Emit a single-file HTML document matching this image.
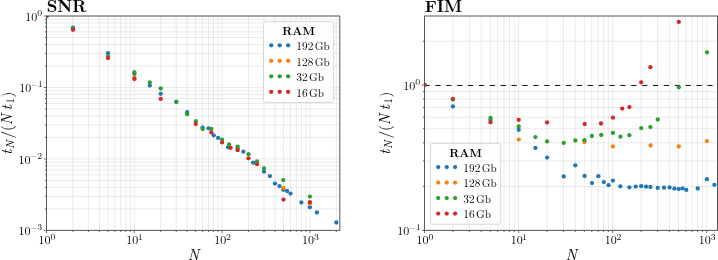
<!DOCTYPE html>
<html><head><meta charset="utf-8"><title>SNR / FIM</title>
<style>html,body{margin:0;padding:0;background:#fff;overflow:hidden}svg{display:block}</style>
</head><body>
<svg width="718" height="260" viewBox="0 0 718 260">
<rect width="718" height="260" fill="#fff"/>
<clipPath id="csnr"><rect x="46.5" y="16.0" width="293.30" height="214.40"/></clipPath>
<path d="M46.50 16.0V230.4M72.93 16.0V230.4M88.39 16.0V230.4M99.36 16.0V230.4M107.87 16.0V230.4M114.82 16.0V230.4M120.70 16.0V230.4M125.79 16.0V230.4M130.28 16.0V230.4M134.30 16.0V230.4M160.73 16.0V230.4M176.19 16.0V230.4M187.16 16.0V230.4M195.67 16.0V230.4M202.62 16.0V230.4M208.50 16.0V230.4M213.59 16.0V230.4M218.08 16.0V230.4M222.10 16.0V230.4M248.53 16.0V230.4M263.99 16.0V230.4M274.96 16.0V230.4M283.47 16.0V230.4M290.42 16.0V230.4M296.30 16.0V230.4M301.39 16.0V230.4M305.88 16.0V230.4M309.90 16.0V230.4M336.33 16.0V230.4" stroke="#c4c4c4" stroke-opacity="0.42" stroke-width="0.8" fill="none"/>
<path d="M46.5 230.41H339.8M46.5 208.90H339.8M46.5 196.31H339.8M46.5 187.38H339.8M46.5 180.45H339.8M46.5 174.80H339.8M46.5 170.01H339.8M46.5 165.87H339.8M46.5 162.21H339.8M46.5 158.94H339.8M46.5 137.43H339.8M46.5 124.84H339.8M46.5 115.91H339.8M46.5 108.98H339.8M46.5 103.33H339.8M46.5 98.54H339.8M46.5 94.40H339.8M46.5 90.74H339.8M46.5 87.47H339.8M46.5 65.96H339.8M46.5 53.37H339.8M46.5 44.44H339.8M46.5 37.51H339.8M46.5 31.86H339.8M46.5 27.07H339.8M46.5 22.93H339.8M46.5 19.27H339.8M46.5 16.00H339.8" stroke="#c4c4c4" stroke-opacity="0.42" stroke-width="0.8" fill="none"/>
<g clip-path="url(#csnr)">
<circle cx="46.5" cy="16" r="2.15" fill="#1f77b4"/>
<circle cx="73" cy="27.7" r="2.15" fill="#1f77b4"/>
<circle cx="108" cy="53.15" r="2.15" fill="#1f77b4"/>
<circle cx="134.4" cy="73.9" r="2.15" fill="#1f77b4"/>
<circle cx="149.8" cy="85.6" r="2.15" fill="#1f77b4"/>
<circle cx="160.7" cy="93.8" r="2.15" fill="#1f77b4"/>
<circle cx="176.3" cy="102.1" r="2.15" fill="#1f77b4"/>
<circle cx="187.2" cy="112.1" r="2.15" fill="#1f77b4"/>
<circle cx="202.6" cy="127.6" r="2.15" fill="#1f77b4"/>
<circle cx="208.5" cy="128.3" r="2.15" fill="#1f77b4"/>
<circle cx="213.7" cy="135.3" r="2.15" fill="#1f77b4"/>
<circle cx="218.1" cy="137.9" r="2.15" fill="#1f77b4"/>
<circle cx="228.1" cy="147.3" r="2.15" fill="#1f77b4"/>
<circle cx="237.6" cy="148.4" r="2.15" fill="#1f77b4"/>
<circle cx="243.4" cy="151.7" r="2.15" fill="#1f77b4"/>
<circle cx="253.1" cy="162.7" r="2.15" fill="#1f77b4"/>
<circle cx="264" cy="171.7" r="2.15" fill="#1f77b4"/>
<circle cx="269.9" cy="176.1" r="2.15" fill="#1f77b4"/>
<circle cx="275" cy="183.6" r="2.15" fill="#1f77b4"/>
<circle cx="279.5" cy="186.1" r="2.15" fill="#1f77b4"/>
<circle cx="283.3" cy="189.8" r="2.15" fill="#1f77b4"/>
<circle cx="287.1" cy="191" r="2.15" fill="#1f77b4"/>
<circle cx="290.5" cy="193.6" r="2.15" fill="#1f77b4"/>
<circle cx="301.4" cy="202.5" r="2.15" fill="#1f77b4"/>
<circle cx="309.9" cy="207.3" r="2.15" fill="#1f77b4"/>
<circle cx="316.9" cy="212.5" r="2.15" fill="#1f77b4"/>
<circle cx="336.3" cy="222.5" r="2.15" fill="#1f77b4"/>
<circle cx="46.5" cy="16" r="2.15" fill="#ff7f0e"/>
<circle cx="134.4" cy="77.6" r="2.15" fill="#ff7f0e"/>
<circle cx="283.4" cy="187.9" r="2.15" fill="#ff7f0e"/>
<circle cx="309.9" cy="203.6" r="2.15" fill="#ff7f0e"/>
<circle cx="46.5" cy="16" r="2.15" fill="#2ca02c"/>
<circle cx="73" cy="28.6" r="2.15" fill="#2ca02c"/>
<circle cx="108" cy="56.3" r="2.15" fill="#2ca02c"/>
<circle cx="134.4" cy="72.2" r="2.15" fill="#2ca02c"/>
<circle cx="149.8" cy="82.5" r="2.15" fill="#2ca02c"/>
<circle cx="160.7" cy="88.5" r="2.15" fill="#2ca02c"/>
<circle cx="176.3" cy="101.6" r="2.15" fill="#2ca02c"/>
<circle cx="187.2" cy="114.2" r="2.15" fill="#2ca02c"/>
<circle cx="195.8" cy="121.2" r="2.15" fill="#2ca02c"/>
<circle cx="202.6" cy="129.1" r="2.15" fill="#2ca02c"/>
<circle cx="211.3" cy="128.8" r="2.15" fill="#2ca02c"/>
<circle cx="222.1" cy="139.6" r="2.15" fill="#2ca02c"/>
<circle cx="229.1" cy="144.5" r="2.15" fill="#2ca02c"/>
<circle cx="237.6" cy="146.6" r="2.15" fill="#2ca02c"/>
<circle cx="248.5" cy="154.2" r="2.15" fill="#2ca02c"/>
<circle cx="257" cy="161.3" r="2.15" fill="#2ca02c"/>
<circle cx="264" cy="168.4" r="2.15" fill="#2ca02c"/>
<circle cx="283.3" cy="180.1" r="2.15" fill="#2ca02c"/>
<circle cx="309.9" cy="196.6" r="2.15" fill="#2ca02c"/>
<circle cx="46.5" cy="16" r="2.15" fill="#d62728"/>
<circle cx="73" cy="29.8" r="2.15" fill="#d62728"/>
<circle cx="108" cy="58.1" r="2.15" fill="#d62728"/>
<circle cx="134.4" cy="79.0" r="2.15" fill="#d62728"/>
<circle cx="160.7" cy="98.9" r="2.15" fill="#d62728"/>
<circle cx="195.8" cy="124.1" r="2.15" fill="#d62728"/>
<circle cx="211.3" cy="132.4" r="2.15" fill="#d62728"/>
<circle cx="222.1" cy="142.4" r="2.15" fill="#d62728"/>
<circle cx="230.7" cy="147.8" r="2.15" fill="#d62728"/>
<circle cx="237.6" cy="150.2" r="2.15" fill="#d62728"/>
<circle cx="248.5" cy="158.3" r="2.15" fill="#d62728"/>
<circle cx="257" cy="164.2" r="2.15" fill="#d62728"/>
<circle cx="283.5" cy="199.6" r="2.15" fill="#d62728"/>
<circle cx="309.9" cy="202.2" r="2.15" fill="#d62728"/>
</g>
<rect x="46.5" y="16.0" width="293.30" height="214.40" fill="none" stroke="#585858" stroke-width="1.0"/>
<path d="M46.50 230.4v2.6M72.93 230.4v1.6M88.39 230.4v1.6M99.36 230.4v1.6M107.87 230.4v1.6M114.82 230.4v1.6M120.70 230.4v1.6M125.79 230.4v1.6M130.28 230.4v1.6M134.30 230.4v2.6M160.73 230.4v1.6M176.19 230.4v1.6M187.16 230.4v1.6M195.67 230.4v1.6M202.62 230.4v1.6M208.50 230.4v1.6M213.59 230.4v1.6M218.08 230.4v1.6M222.10 230.4v2.6M248.53 230.4v1.6M263.99 230.4v1.6M274.96 230.4v1.6M283.47 230.4v1.6M290.42 230.4v1.6M296.30 230.4v1.6M301.39 230.4v1.6M305.88 230.4v1.6M309.90 230.4v2.6M336.33 230.4v1.6M46.5 230.41h-2.6M46.5 208.90h-1.6M46.5 196.31h-1.6M46.5 187.38h-1.6M46.5 180.45h-1.6M46.5 174.80h-1.6M46.5 170.01h-1.6M46.5 165.87h-1.6M46.5 162.21h-1.6M46.5 158.94h-2.6M46.5 137.43h-1.6M46.5 124.84h-1.6M46.5 115.91h-1.6M46.5 108.98h-1.6M46.5 103.33h-1.6M46.5 98.54h-1.6M46.5 94.40h-1.6M46.5 90.74h-1.6M46.5 87.47h-2.6M46.5 65.96h-1.6M46.5 53.37h-1.6M46.5 44.44h-1.6M46.5 37.51h-1.6M46.5 31.86h-1.6M46.5 27.07h-1.6M46.5 22.93h-1.6M46.5 19.27h-1.6M46.5 16.00h-2.6" stroke="#585858" stroke-width="0.9" fill="none"/>
<text y="243.8" font-family='"LM Roman 10","Latin Modern Roman","Liberation Serif",serif' font-size="12.0"><tspan x="38.53">10</tspan><tspan x="50.50" y="239.55" font-family='"LM Roman 7","Latin Modern Roman","Liberation Serif",serif' font-size="8.6">0</tspan></text>
<text y="243.8" font-family='"LM Roman 10","Latin Modern Roman","Liberation Serif",serif' font-size="12.0"><tspan x="126.33">10</tspan><tspan x="137.81" y="239.55" font-family='"LM Roman 7","Latin Modern Roman","Liberation Serif",serif' font-size="8.6">1</tspan></text>
<text y="243.8" font-family='"LM Roman 10","Latin Modern Roman","Liberation Serif",serif' font-size="12.0"><tspan x="214.13">10</tspan><tspan x="226.01" y="239.55" font-family='"LM Roman 7","Latin Modern Roman","Liberation Serif",serif' font-size="8.6">2</tspan></text>
<text y="243.8" font-family='"LM Roman 10","Latin Modern Roman","Liberation Serif",serif' font-size="12.0"><tspan x="301.93">10</tspan><tspan x="313.89" y="239.55" font-family='"LM Roman 7","Latin Modern Roman","Liberation Serif",serif' font-size="8.6">3</tspan></text>
<text y="235.01" font-family='"LM Roman 10","Latin Modern Roman","Liberation Serif",serif' font-size="12.0"><tspan x="18.41">10</tspan><tspan x="30.69" y="229.66" font-family='"LM Roman 7","Latin Modern Roman","Liberation Serif",serif' font-size="6.4">−</tspan><tspan x="37.28" y="230.36" font-family='"LM Roman 7","Latin Modern Roman","Liberation Serif",serif' font-size="8.6">3</tspan></text>
<text y="163.54" font-family='"LM Roman 10","Latin Modern Roman","Liberation Serif",serif' font-size="12.0"><tspan x="18.57">10</tspan><tspan x="30.84" y="158.19" font-family='"LM Roman 7","Latin Modern Roman","Liberation Serif",serif' font-size="6.4">−</tspan><tspan x="37.36" y="158.89" font-family='"LM Roman 7","Latin Modern Roman","Liberation Serif",serif' font-size="8.6">2</tspan></text>
<text y="92.07" font-family='"LM Roman 10","Latin Modern Roman","Liberation Serif",serif' font-size="12.0"><tspan x="19.24">10</tspan><tspan x="31.51" y="86.72" font-family='"LM Roman 7","Latin Modern Roman","Liberation Serif",serif' font-size="6.4">−</tspan><tspan x="37.63" y="87.42" font-family='"LM Roman 7","Latin Modern Roman","Liberation Serif",serif' font-size="8.6">1</tspan></text>
<text y="20.60" font-family='"LM Roman 10","Latin Modern Roman","Liberation Serif",serif' font-size="12.0"><tspan x="25.29">10</tspan><tspan x="37.26" y="15.95" font-family='"LM Roman 7","Latin Modern Roman","Liberation Serif",serif' font-size="8.6">0</tspan></text>
<text x="46.7" y="11.8" font-family='"LM Roman 10","Latin Modern Roman","Liberation Serif",serif' font-weight="bold" font-size="16.6">SNR</text>
<clipPath id="cfim"><rect x="424.5" y="16.0" width="293.00" height="214.40"/></clipPath>
<path d="M424.50 16.0V230.4M452.83 16.0V230.4M469.40 16.0V230.4M481.15 16.0V230.4M490.27 16.0V230.4M497.72 16.0V230.4M504.02 16.0V230.4M509.48 16.0V230.4M514.29 16.0V230.4M518.60 16.0V230.4M546.93 16.0V230.4M563.50 16.0V230.4M575.25 16.0V230.4M584.37 16.0V230.4M591.82 16.0V230.4M598.12 16.0V230.4M603.58 16.0V230.4M608.39 16.0V230.4M612.70 16.0V230.4M641.03 16.0V230.4M657.60 16.0V230.4M669.35 16.0V230.4M678.47 16.0V230.4M685.92 16.0V230.4M692.22 16.0V230.4M697.68 16.0V230.4M702.49 16.0V230.4M706.80 16.0V230.4" stroke="#c4c4c4" stroke-opacity="0.42" stroke-width="0.8" fill="none"/>
<path d="M424.5 230.30H717.5M424.5 186.56H717.5M424.5 160.97H717.5M424.5 142.82H717.5M424.5 128.74H717.5M424.5 117.23H717.5M424.5 107.51H717.5M424.5 99.08H717.5M424.5 91.65H717.5M424.5 85.00H717.5M424.5 41.26H717.5" stroke="#c4c4c4" stroke-opacity="0.42" stroke-width="0.8" fill="none"/>
<line x1="424.5" y1="85.45" x2="717.5" y2="85.45" stroke="#1c1c1c" stroke-width="1.05" stroke-dasharray="5.2 5.68"/>
<g clip-path="url(#cfim)">
<circle cx="424.5" cy="85" r="2.15" fill="#1f77b4"/>
<circle cx="452.9" cy="106.4" r="2.15" fill="#1f77b4"/>
<circle cx="490.5" cy="120" r="2.15" fill="#1f77b4"/>
<circle cx="518.7" cy="129.8" r="2.15" fill="#1f77b4"/>
<circle cx="535.4" cy="147.9" r="2.15" fill="#1f77b4"/>
<circle cx="547.1" cy="157.6" r="2.15" fill="#1f77b4"/>
<circle cx="563.7" cy="176.5" r="2.15" fill="#1f77b4"/>
<circle cx="575.3" cy="165.3" r="2.15" fill="#1f77b4"/>
<circle cx="584.6" cy="176" r="2.15" fill="#1f77b4"/>
<circle cx="592" cy="183.1" r="2.15" fill="#1f77b4"/>
<circle cx="598.4" cy="176.2" r="2.15" fill="#1f77b4"/>
<circle cx="603.8" cy="182.1" r="2.15" fill="#1f77b4"/>
<circle cx="608.6" cy="185.2" r="2.15" fill="#1f77b4"/>
<circle cx="612.9" cy="180.6" r="2.15" fill="#1f77b4"/>
<circle cx="620.4" cy="186.3" r="2.15" fill="#1f77b4"/>
<circle cx="629.4" cy="187.3" r="2.15" fill="#1f77b4"/>
<circle cx="635.7" cy="186.6" r="2.15" fill="#1f77b4"/>
<circle cx="641.2" cy="186.2" r="2.15" fill="#1f77b4"/>
<circle cx="646.1" cy="186.7" r="2.15" fill="#1f77b4"/>
<circle cx="650.4" cy="187" r="2.15" fill="#1f77b4"/>
<circle cx="657.7" cy="187.9" r="2.15" fill="#1f77b4"/>
<circle cx="664" cy="187.7" r="2.15" fill="#1f77b4"/>
<circle cx="669.6" cy="187.5" r="2.15" fill="#1f77b4"/>
<circle cx="674.4" cy="188.6" r="2.15" fill="#1f77b4"/>
<circle cx="678.7" cy="189.1" r="2.15" fill="#1f77b4"/>
<circle cx="682.6" cy="188.3" r="2.15" fill="#1f77b4"/>
<circle cx="686.3" cy="189.9" r="2.15" fill="#1f77b4"/>
<circle cx="697.7" cy="188.5" r="2.15" fill="#1f77b4"/>
<circle cx="706.9" cy="179.2" r="2.15" fill="#1f77b4"/>
<circle cx="714.4" cy="184.8" r="2.15" fill="#1f77b4"/>
<circle cx="424.5" cy="85" r="2.15" fill="#ff7f0e"/>
<circle cx="518.7" cy="139.6" r="2.15" fill="#ff7f0e"/>
<circle cx="584.5" cy="142.1" r="2.15" fill="#ff7f0e"/>
<circle cx="612.9" cy="146.4" r="2.15" fill="#ff7f0e"/>
<circle cx="650.6" cy="145.5" r="2.15" fill="#ff7f0e"/>
<circle cx="678.8" cy="146.5" r="2.15" fill="#ff7f0e"/>
<circle cx="706.9" cy="141.1" r="2.15" fill="#ff7f0e"/>
<circle cx="424.5" cy="85" r="2.15" fill="#2ca02c"/>
<circle cx="452.9" cy="99.6" r="2.15" fill="#2ca02c"/>
<circle cx="490.5" cy="118.0" r="2.15" fill="#2ca02c"/>
<circle cx="518.7" cy="126.3" r="2.15" fill="#2ca02c"/>
<circle cx="535.4" cy="137.1" r="2.15" fill="#2ca02c"/>
<circle cx="547.1" cy="141.4" r="2.15" fill="#2ca02c"/>
<circle cx="563.7" cy="142.9" r="2.15" fill="#2ca02c"/>
<circle cx="575.4" cy="140.5" r="2.15" fill="#2ca02c"/>
<circle cx="584.4" cy="140.2" r="2.15" fill="#2ca02c"/>
<circle cx="591.9" cy="136" r="2.15" fill="#2ca02c"/>
<circle cx="601.2" cy="135" r="2.15" fill="#2ca02c"/>
<circle cx="612.9" cy="132.9" r="2.15" fill="#2ca02c"/>
<circle cx="620.4" cy="136.7" r="2.15" fill="#2ca02c"/>
<circle cx="629.4" cy="135.2" r="2.15" fill="#2ca02c"/>
<circle cx="641.2" cy="128.1" r="2.15" fill="#2ca02c"/>
<circle cx="650.4" cy="127.1" r="2.15" fill="#2ca02c"/>
<circle cx="657.8" cy="119.5" r="2.15" fill="#2ca02c"/>
<circle cx="678.8" cy="87.3" r="2.15" fill="#2ca02c"/>
<circle cx="707" cy="52.3" r="2.15" fill="#2ca02c"/>
<circle cx="424.5" cy="85" r="2.15" fill="#d62728"/>
<circle cx="452.9" cy="98.85" r="2.15" fill="#d62728"/>
<circle cx="490.5" cy="122.3" r="2.15" fill="#d62728"/>
<circle cx="518.7" cy="119.8" r="2.15" fill="#d62728"/>
<circle cx="547.1" cy="122.5" r="2.15" fill="#d62728"/>
<circle cx="584.7" cy="124" r="2.15" fill="#d62728"/>
<circle cx="601" cy="123.5" r="2.15" fill="#d62728"/>
<circle cx="612.9" cy="117.7" r="2.15" fill="#d62728"/>
<circle cx="622.2" cy="108.6" r="2.15" fill="#d62728"/>
<circle cx="629.4" cy="107.1" r="2.15" fill="#d62728"/>
<circle cx="641.2" cy="82.3" r="2.15" fill="#d62728"/>
<circle cx="650.4" cy="67.2" r="2.15" fill="#d62728"/>
<circle cx="678.8" cy="21.9" r="2.15" fill="#d62728"/>
</g>
<rect x="424.5" y="16.0" width="293.00" height="214.40" fill="none" stroke="#585858" stroke-width="1.0"/>
<path d="M424.50 230.4v2.6M452.83 230.4v1.6M469.40 230.4v1.6M481.15 230.4v1.6M490.27 230.4v1.6M497.72 230.4v1.6M504.02 230.4v1.6M509.48 230.4v1.6M514.29 230.4v1.6M518.60 230.4v2.6M546.93 230.4v1.6M563.50 230.4v1.6M575.25 230.4v1.6M584.37 230.4v1.6M591.82 230.4v1.6M598.12 230.4v1.6M603.58 230.4v1.6M608.39 230.4v1.6M612.70 230.4v2.6M641.03 230.4v1.6M657.60 230.4v1.6M669.35 230.4v1.6M678.47 230.4v1.6M685.92 230.4v1.6M692.22 230.4v1.6M697.68 230.4v1.6M702.49 230.4v1.6M706.80 230.4v2.6M424.5 230.30h-2.6M424.5 186.56h-1.6M424.5 160.97h-1.6M424.5 142.82h-1.6M424.5 128.74h-1.6M424.5 117.23h-1.6M424.5 107.51h-1.6M424.5 99.08h-1.6M424.5 91.65h-1.6M424.5 85.00h-2.6M424.5 41.26h-1.6" stroke="#585858" stroke-width="0.9" fill="none"/>
<text y="243.8" font-family='"LM Roman 10","Latin Modern Roman","Liberation Serif",serif' font-size="12.0"><tspan x="416.53">10</tspan><tspan x="428.50" y="239.55" font-family='"LM Roman 7","Latin Modern Roman","Liberation Serif",serif' font-size="8.6">0</tspan></text>
<text y="243.8" font-family='"LM Roman 10","Latin Modern Roman","Liberation Serif",serif' font-size="12.0"><tspan x="510.63">10</tspan><tspan x="522.11" y="239.55" font-family='"LM Roman 7","Latin Modern Roman","Liberation Serif",serif' font-size="8.6">1</tspan></text>
<text y="243.8" font-family='"LM Roman 10","Latin Modern Roman","Liberation Serif",serif' font-size="12.0"><tspan x="604.73">10</tspan><tspan x="616.61" y="239.55" font-family='"LM Roman 7","Latin Modern Roman","Liberation Serif",serif' font-size="8.6">2</tspan></text>
<text y="243.8" font-family='"LM Roman 10","Latin Modern Roman","Liberation Serif",serif' font-size="12.0"><tspan x="698.83">10</tspan><tspan x="710.79" y="239.55" font-family='"LM Roman 7","Latin Modern Roman","Liberation Serif",serif' font-size="8.6">3</tspan></text>
<text y="234.90" font-family='"LM Roman 10","Latin Modern Roman","Liberation Serif",serif' font-size="12.0"><tspan x="397.24">10</tspan><tspan x="409.51" y="229.55" font-family='"LM Roman 7","Latin Modern Roman","Liberation Serif",serif' font-size="6.4">−</tspan><tspan x="415.63" y="230.25" font-family='"LM Roman 7","Latin Modern Roman","Liberation Serif",serif' font-size="8.6">1</tspan></text>
<text y="89.60" font-family='"LM Roman 10","Latin Modern Roman","Liberation Serif",serif' font-size="12.0"><tspan x="403.29">10</tspan><tspan x="415.26" y="84.95" font-family='"LM Roman 7","Latin Modern Roman","Liberation Serif",serif' font-size="8.6">0</tspan></text>
<text x="424.7" y="11.8" font-family='"LM Roman 10","Latin Modern Roman","Liberation Serif",serif' font-weight="bold" font-size="16.6">FIM</text>
<rect x="263.5" y="21.6" width="70.2" height="80.8" rx="2" fill="#fff" fill-opacity="0.8" stroke="#d6d6d6" stroke-width="1"/>
<text x="298.60" y="35.10" text-anchor="middle" font-family='"LM Roman 10","Latin Modern Roman","Liberation Serif",serif' font-weight="bold" font-size="11.6">RAM</text>
<circle cx="271.20" cy="45.30" r="2.15" fill="#1f77b4"/>
<circle cx="279.70" cy="45.30" r="2.15" fill="#1f77b4"/>
<circle cx="288.10" cy="45.30" r="2.15" fill="#1f77b4"/>
<text x="296.30" y="50.00" font-family='"LM Roman 10","Latin Modern Roman","Liberation Serif",serif' font-size="11.4" word-spacing="-2.5">192 <tspan font-size="11.2">Gb</tspan></text>
<circle cx="271.20" cy="60.80" r="2.15" fill="#ff7f0e"/>
<circle cx="279.70" cy="60.80" r="2.15" fill="#ff7f0e"/>
<circle cx="288.10" cy="60.80" r="2.15" fill="#ff7f0e"/>
<text x="296.30" y="65.50" font-family='"LM Roman 10","Latin Modern Roman","Liberation Serif",serif' font-size="11.4" word-spacing="-2.5">128 <tspan font-size="11.2">Gb</tspan></text>
<circle cx="271.20" cy="76.30" r="2.15" fill="#2ca02c"/>
<circle cx="279.70" cy="76.30" r="2.15" fill="#2ca02c"/>
<circle cx="288.10" cy="76.30" r="2.15" fill="#2ca02c"/>
<text x="296.30" y="81.00" font-family='"LM Roman 10","Latin Modern Roman","Liberation Serif",serif' font-size="11.4" word-spacing="-2.5">32 <tspan font-size="11.2">Gb</tspan></text>
<circle cx="271.20" cy="91.80" r="2.15" fill="#d62728"/>
<circle cx="279.70" cy="91.80" r="2.15" fill="#d62728"/>
<circle cx="288.10" cy="91.80" r="2.15" fill="#d62728"/>
<text x="296.30" y="96.50" font-family='"LM Roman 10","Latin Modern Roman","Liberation Serif",serif' font-size="11.4" word-spacing="-2.5">16 <tspan font-size="11.2">Gb</tspan></text>
<rect x="430.5" y="143.4" width="70.2" height="80.8" rx="2" fill="#fff" fill-opacity="0.8" stroke="#d6d6d6" stroke-width="1"/>
<text x="465.60" y="156.90" text-anchor="middle" font-family='"LM Roman 10","Latin Modern Roman","Liberation Serif",serif' font-weight="bold" font-size="11.6">RAM</text>
<circle cx="438.20" cy="167.10" r="2.15" fill="#1f77b4"/>
<circle cx="446.70" cy="167.10" r="2.15" fill="#1f77b4"/>
<circle cx="455.10" cy="167.10" r="2.15" fill="#1f77b4"/>
<text x="463.30" y="171.80" font-family='"LM Roman 10","Latin Modern Roman","Liberation Serif",serif' font-size="11.4" word-spacing="-2.5">192 <tspan font-size="11.2">Gb</tspan></text>
<circle cx="438.20" cy="182.60" r="2.15" fill="#ff7f0e"/>
<circle cx="446.70" cy="182.60" r="2.15" fill="#ff7f0e"/>
<circle cx="455.10" cy="182.60" r="2.15" fill="#ff7f0e"/>
<text x="463.30" y="187.30" font-family='"LM Roman 10","Latin Modern Roman","Liberation Serif",serif' font-size="11.4" word-spacing="-2.5">128 <tspan font-size="11.2">Gb</tspan></text>
<circle cx="438.20" cy="198.10" r="2.15" fill="#2ca02c"/>
<circle cx="446.70" cy="198.10" r="2.15" fill="#2ca02c"/>
<circle cx="455.10" cy="198.10" r="2.15" fill="#2ca02c"/>
<text x="463.30" y="202.80" font-family='"LM Roman 10","Latin Modern Roman","Liberation Serif",serif' font-size="11.4" word-spacing="-2.5">32 <tspan font-size="11.2">Gb</tspan></text>
<circle cx="438.20" cy="213.60" r="2.15" fill="#d62728"/>
<circle cx="446.70" cy="213.60" r="2.15" fill="#d62728"/>
<circle cx="455.10" cy="213.60" r="2.15" fill="#d62728"/>
<text x="463.30" y="218.30" font-family='"LM Roman 10","Latin Modern Roman","Liberation Serif",serif' font-size="11.4" word-spacing="-2.5">16 <tspan font-size="11.2">Gb</tspan></text>
<text transform="translate(12.0,155) rotate(-90)" font-family='"LM Roman 10","Latin Modern Roman","Liberation Serif",serif' font-size="15.2"><tspan x="0.37" y="0" font-family='"LM Roman 10","Latin Modern Roman","Liberation Serif",serif' font-size="15.2" font-style="italic">t</tspan><tspan x="5.89" y="2.4" font-family='"LM Roman 7","Latin Modern Roman","Liberation Serif",serif' font-size="10.64" font-style="italic">N</tspan><tspan x="16.51" y="0" font-family='"LM Roman 10","Latin Modern Roman","Liberation Serif",serif' font-size="15.2">/</tspan><tspan x="24.13" y="0" font-family='"LM Roman 10","Latin Modern Roman","Liberation Serif",serif' font-size="15.2">(</tspan><tspan x="29.70" y="0" font-family='"LM Roman 10","Latin Modern Roman","Liberation Serif",serif' font-size="15.2" font-style="italic">N</tspan><tspan x="44.67" y="0" font-family='"LM Roman 10","Latin Modern Roman","Liberation Serif",serif' font-size="15.2" font-style="italic">t</tspan><tspan x="51.00" y="2.4" font-family='"LM Roman 7","Latin Modern Roman","Liberation Serif",serif' font-size="10.64">1</tspan><tspan x="57.46" y="0" font-family='"LM Roman 10","Latin Modern Roman","Liberation Serif",serif' font-size="15.2">)</tspan></text>
<text transform="translate(390.0,155) rotate(-90)" font-family='"LM Roman 10","Latin Modern Roman","Liberation Serif",serif' font-size="15.2"><tspan x="0.37" y="0" font-family='"LM Roman 10","Latin Modern Roman","Liberation Serif",serif' font-size="15.2" font-style="italic">t</tspan><tspan x="5.89" y="2.4" font-family='"LM Roman 7","Latin Modern Roman","Liberation Serif",serif' font-size="10.64" font-style="italic">N</tspan><tspan x="16.51" y="0" font-family='"LM Roman 10","Latin Modern Roman","Liberation Serif",serif' font-size="15.2">/</tspan><tspan x="24.13" y="0" font-family='"LM Roman 10","Latin Modern Roman","Liberation Serif",serif' font-size="15.2">(</tspan><tspan x="29.70" y="0" font-family='"LM Roman 10","Latin Modern Roman","Liberation Serif",serif' font-size="15.2" font-style="italic">N</tspan><tspan x="44.67" y="0" font-family='"LM Roman 10","Latin Modern Roman","Liberation Serif",serif' font-size="15.2" font-style="italic">t</tspan><tspan x="51.00" y="2.4" font-family='"LM Roman 7","Latin Modern Roman","Liberation Serif",serif' font-size="10.64">1</tspan><tspan x="57.46" y="0" font-family='"LM Roman 10","Latin Modern Roman","Liberation Serif",serif' font-size="15.2">)</tspan></text>
<text x="193.40" y="260.2" text-anchor="middle" font-family='"LM Roman 10","Latin Modern Roman","Liberation Serif",serif' font-style="italic" font-size="15.4">N</text>
<text x="571.20" y="260.2" text-anchor="middle" font-family='"LM Roman 10","Latin Modern Roman","Liberation Serif",serif' font-style="italic" font-size="15.4">N</text>
</svg>
</body></html>
